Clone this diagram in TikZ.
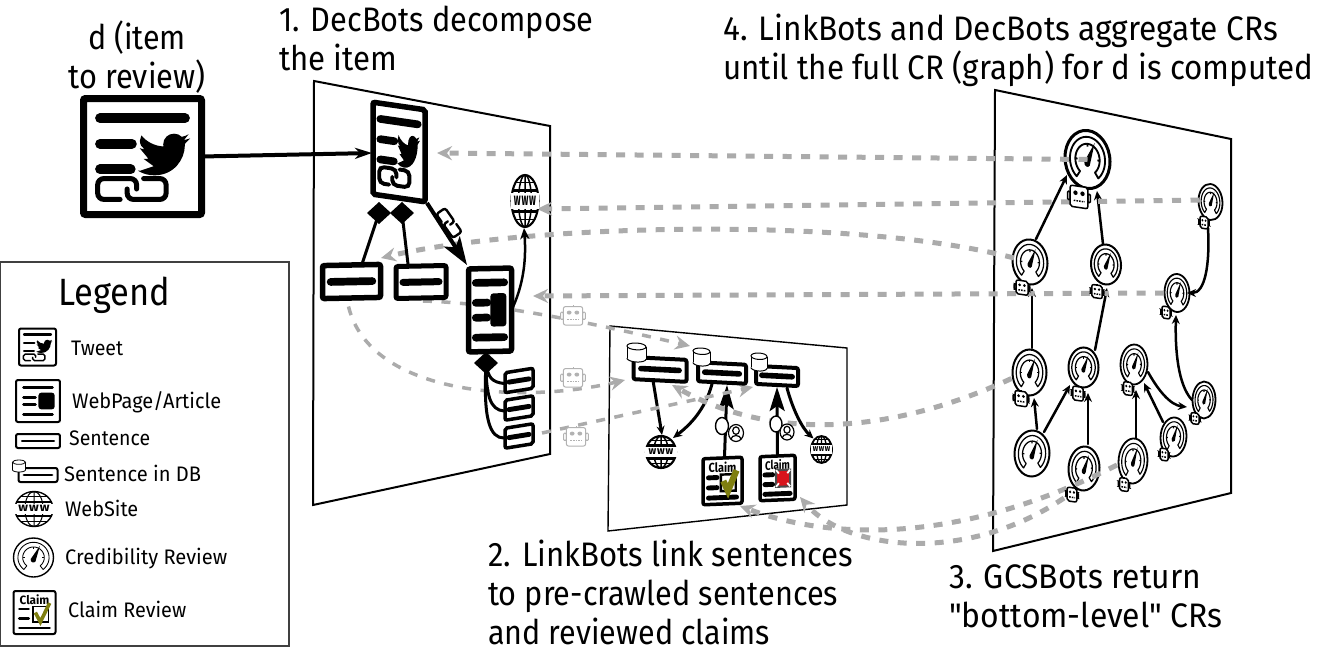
\documentclass[tikz,border=0pt]{standalone}
\usepackage{graphicx}
\usepackage{fontspec}
\setmainfont{Fira Sans}[Ligatures=TeXOff]
\usetikzlibrary{arrows.meta}
\pgfdeclarelayer{plane}\pgfdeclarelayer{gauge}\pgfdeclarelayer{gray}
\pgfsetlayers{plane,gauge,gray,main}
\definecolor{dashgray}{HTML}{ABABAB}
\definecolor{olivecheck}{HTML}{7F7F10}
\definecolor{crossred}{HTML}{D8141C}
\newcommand\At[3]{([shift={(#2,#3)}]#1.center)}
\newcommand\FitW[2]{\setbox0\hbox{#2}\pgfmathsetmacro\fitr{#1/\the\wd0}\scalebox{\fitr}[1]{#2}}
\newcommand\Ic[8]{%
 \begin{scope}[shift={(#2,#3)},yslant=-1*(#6),xscale=#4/100,yscale=#5/100]
 \def\Lw{#7}\pgfmathsetmacro\Bw{#7*1.4}\pgfmathsetmacro\Lk{#7*.72}\pgfmathsetmacro\Lt{#7*.62}\pgfmathsetmacro\Lr{#7*.9}
 \node[inner sep=0pt,outer sep=0pt,minimum width=100pt,minimum height=100pt,transform shape] (#1) at (0,0) {};
 #8
 \end{scope}}
\tikzset{
 x=1pt,y=-1pt,
 box/.style={draw=black,fill=white,line width=\Lw pt,rounded corners=2pt},
 bar/.style={line width=\Bw pt,line cap=round,black},
 blk/.style={draw=black,line width=2.5pt,line cap=round,-{Stealth[length=9pt,width=8pt,inset=3pt]}},
 bigblk/.style={draw=black,line width=3pt,-{Stealth[length=24pt,width=15pt,inset=5pt]}},
 plain/.style={draw=black,line width=3pt,line cap=round},
 dsh/.style={draw=dashgray,line width=5pt,dash pattern=on 9pt off 9.5pt,-{Stealth[length=15pt,width=14pt,inset=5pt]}},
 planeedge/.style={draw=black,fill=white,line width=2pt,line join=miter},
 title/.style={inner sep=0pt,anchor=base west,align=left,font=\fontsize{34}{38.7}\selectfont},
 leg/.style={inner sep=0pt,anchor=base west,font=\fontsize{21}{24}\selectfont},
}
\newcommand\Bird{\fill[black] (23.95,4.57) -- (21.13,5.35) -- (23.29,2.62) .. controls (22.34,3.18) and (21.29,3.58) .. (20.17,3.81) .. controls (19.2,2.8) and (17.9,2.33) .. (16.57,2.33) .. controls (13.85,2.33) and (11.65,4.53) .. (11.65,7.25) .. controls (11.65,7.6) and (11.7,7.95) .. (11.78,8.29) .. controls (7.69,8.10) and (4.07,6.13) .. (1.64,3.16) -- (0.97,5.64) .. controls (0.97,7.35) and (1.84,8.85) .. (3.16,9.73) -- (0.93,9.12) -- (0.93,9.18) -- (4.88,14.0) -- (2.67,14.09) -- (7.27,17.5) -- (1.17,19.6) .. controls (0.78,19.6) and (0.39,19.58) .. (0,19.54) .. controls (2.18,20.94) and (4.76,21.75) .. (7.56,21.75) .. controls (16.61,21.75) and (21.56,14.25) .. (21.56,7.76) -- (21.545,7.13) -- cycle;}
\newcommand\LinkShape{%
 \draw[line width=\Lk pt,rounded corners=\Lr pt,line cap=round] (4,0)--(4,-9)--(-29,-9)--(-29,9)--(-10,9);
 \draw[line width=\Lk pt,rounded corners=\Lr pt,line cap=round] (-4,0)--(-4,9)--(29,9)--(29,-9)--(10,-9);}
\newcommand\TweetC{%
 \path[box] (-50,-50) rectangle (50,50);
 \draw[bar] (-36,-33)--(36,-33) (-36,-11)--(-9,-11) (-36,11)--(-10,11);
 \begin{scope}[shift={(-4,-24)},scale=1.85]\Bird\end{scope}
 \begin{scope}[shift={(-9,28)}]\LinkShape\end{scope}}
\newcommand\WebC{%
 \path[box] (-50,-50) rectangle (50,50);
 \draw[bar] (-33,-33)--(33,-33) (-33,-9)--(-6,-9) (-33,9)--(-6,9) (-33,33)--(33,33);
 \fill[black,rounded corners=3pt] (1,-20) rectangle (38,20);}
\newcommand\SentC{%
 \path[box] (-50,-50) rectangle (50,50);
 \draw[bar] (-36,0)--(36,0);}
\newcommand\CylC{%
 \fill[white] (-50,-32) rectangle (50,32);
 \fill[white] (0,32) ellipse (50 and 18);
 \draw[line width=\Lw pt] (-50,-32) -- (-50,32);
 \draw[line width=\Lw pt] (50,-32) -- (50,32);
 \draw[line width=\Lw pt] plot[domain=180:360,samples=20] ({50*cos(\x)},{32-18*sin(\x)});
 \draw[line width=\Lw pt,fill=white] (0,-32) ellipse (50 and 18);}
\newcommand\GlobeC{%
 \fill[white] (0,0) circle (50);
 \begin{scope}
 \clip (0,0) circle (50);
 \draw[line width=\Lw pt] (0,0) ellipse (24 and 50) (0,-50)--(0,50);
 \draw[line width=\Lw pt] (-50,-36)--(50,-36) (-50,36)--(50,36);
 \draw[line width=1.6*\Lw pt] (-50,-20)--(50,-20) (-50,20)--(50,20);
 \end{scope}
 \draw[line width=1.4*\Lw pt] (0,0) circle (50);
 \fill[white] (-52,-15) rectangle (52,15);
 \node[transform shape,inner sep=0pt,font=\fontsize{34}{34}\selectfont\bfseries] at (0,-1) {w\kern3pt w\kern3pt w};}
\newcommand\GaugeC{%
 \draw[line width=\Lw pt,fill=white] (0,0) circle (50);
 \draw[line width=\Lt pt,line join=round] plot[domain=232:-52,samples=36] ({39*cos(\x)},{-39*sin(\x)}) -- plot[domain=-52:232,samples=36] ({27*cos(\x)},{-27*sin(\x)}) -- cycle;
 \draw[line width=\Lt pt] (-27,0)--(-22,0) (27,0)--(22,0) (0,-27)--(0,-22);
 \fill[black] (16,-30) -- (5,10) .. controls (2,16) and (-9,12) .. (-7,4) -- cycle;}
\newcommand\RobotC[1]{%
 \draw[#1,line width=\Lw pt,fill=white,rounded corners=1pt] (-52,-14) rectangle (-40,22);
 \draw[#1,line width=\Lw pt,fill=white,rounded corners=1pt] (52,-14) rectangle (40,22);
 \draw[#1,line width=\Lw pt] (0,-42)--(0,-50);
 \draw[#1,line width=\Lw pt,fill=white,rounded corners=2pt] (-40,-42) rectangle (40,50);
 \fill[#1] (-16,-12) circle (10) (16,-12) circle (10);
 \draw[#1,line width=\Lw pt,dash pattern=on 1.6pt off 1.1pt] (-24,22)--(26,22);}
\newcommand\ClaimC[1]{%
 \path[box] (-50,-50) rectangle (50,50);
 \node[transform shape,inner sep=0pt,font=\fontsize{28}{28}\selectfont\bfseries] at (0,-30) {Claim};
 \draw[bar] (-36,-8)--(-14,-8) (-36,14)--(-14,14) (-36,36)--(36,36);
 #1}
\newcommand\Chk{%
 \draw[line width=.7*\Lw pt,fill=white] (-4,-14) rectangle (34,22);
 \draw[olivecheck,line width=1.8*\Lw pt,line cap=butt] (2,0)--(14,22)--(36,-22);}
\newcommand\Crs{%
 \draw[black!70,line width=.6*\Lw pt,fill=crossred] (-4,-18) rectangle (36,20);
 \draw[white,line width=.5*\Lw pt] (-4,-18)--(4,-10) (36,-18)--(28,-10) (-4,20)--(4,12) (36,20)--(28,12);}
\newcommand\DiaC{\fill[black] (-50,0)--(0,-50)--(50,0)--(0,50)--cycle;}
\newcommand\BadgeC{%
 \draw[line width=\Lw pt,fill=white] (0,0) circle (50);
 \draw[line width=\Lw pt,fill=white] (0,-14) circle (22);
 \draw[line width=\Lw pt] (-34,36) .. controls (-30,8) and (30,8) .. (34,36);}
\newcommand\GlassC{\draw[line width=\Lw pt,fill=white] (0,0) circle (50);}
\newcommand\Gg[7]{\begin{pgfonlayer}{gauge}\Ic{#1}{#2}{#3}{#4}{#5}{#6}{#7}{\GaugeC}\end{pgfonlayer}}
\newcommand\Rb[5]{\Ic{#1}{#2}{#3}{#4}{#5}{0.15}{1.5}{\RobotC{black}}}
\begin{document}
\begin{tikzpicture}
\useasboundingbox (0,0) rectangle (1318,651);
\begin{pgfonlayer}{plane}
\fill[white] (0,0) rectangle (1318,651);
\path[planeedge] (314,81)--(550,126)--(550,454)--(313,505)--cycle;
\path[planeedge,line width=1.4pt] (610,326)--(847,348)--(847,505)--(608,531)--cycle;
\path[planeedge] (995,90)--(1231,139)--(1231,493)--(993,551)--cycle;
\end{pgfonlayer}
% titles
\node[title,align=center,anchor=base] (tD) at (137,88) {\FitW{98}{d (item}\\\FitW{137}{to review)}};
\node[title] (t1) at (279,70) {\FitW{314}{1. DecBots decompose}\\\FitW{118}{the item}};
\node[title] (t4) at (723,79) {\FitW{555}{4. LinkBots and DecBots aggregate CRs}\\\FitW{590}{until the full CR (graph) for d is computed}};
\node[title] (t2) at (488,644) {\FitW{365}{2. LinkBots link sentences}\\\FitW{350}{to pre-crawled sentences}\\\FitW{282}{and reviewed claims}};
\node[title] (t3) at (949,627) {\FitW{252}{3. GCSBots return}\\\FitW{273}{"bottom-level" CRs}};
% legend
\path[draw=black!75,line width=1.4pt] (0.7,262) rectangle (289,646);
\node[leg,font=\fontsize{38}{40}\selectfont] (lt) at (58,305) {\FitW{112}{Legend}};
\node[leg] (l1) at (71,355) {\FitW{52}{Tweet}};
\node[leg] (l2) at (72,408) {\FitW{149}{WebPage/Article}};
\node[leg] (l3) at (69,445) {\FitW{81}{Sentence}};
\node[leg] (l4) at (64,481) {\FitW{137}{Sentence in DB}};
\node[leg] (l5) at (65,516) {\FitW{73}{WebSite}};
\node[leg] (l6) at (65,564) {\FitW{162}{Credibility Review}};
\node[leg] (l7) at (68,617) {\FitW{118}{Claim Review}};
\Ic{li1}{37.5}{347}{37}{37}{0}{2}{\TweetC}
\Ic{li2}{38}{401}{44}{42}{0}{2}{\WebC}
\Ic{li3}{38}{441}{44}{14}{0}{2}{\SentC}
\Ic{li4}{38}{475}{39}{14}{0}{2}{\SentC}
\Ic{li4c}{19}{466}{13}{12}{0}{0.8}{\CylC}
\Ic{li5}{34}{509}{38}{35}{0}{1}{\GlobeC}
\Ic{li6}{33.5}{557.5}{40}{39}{0}{1.4}{\GaugeC}
\Ic{li7}{34.5}{612.5}{42}{43}{0}{2}{\ClaimC{\Chk}}
% d
\Ic{tw0}{142.5}{156.5}{118}{116}{0}{7}{\TweetC}
% left plane
\Ic{tw}{399}{152}{52}{92}{0.145}{5.5}{\TweetC}
\Ic{art}{490}{310}{43}{83}{-0.02}{5.5}{\WebC}
\Ic{s1}{351.5}{281.5}{58}{33}{-0.02}{5.5}{\SentC}
\Ic{s2}{421}{282}{50}{32}{-0.02}{5}{\SentC}
\Ic{s3}{519}{380.5}{28}{20}{-0.16}{3.5}{\SentC}
\Ic{s4}{519}{408}{28}{20}{-0.16}{3.5}{\SentC}
\Ic{s5}{519}{436}{28}{20}{-0.16}{3.5}{\SentC}
\Ic{dm1}{379}{213}{24}{22}{0}{1}{\DiaC}
\Ic{dm2}{402}{213}{24}{22}{0}{1}{\DiaC}
\Ic{dm3}{486}{363}{24}{22}{0}{1}{\DiaC}
\Ic{web1}{525}{201}{27}{52}{0}{1.5}{\GlobeC}
\begin{scope}[shift={(449,223)},rotate=-55,xscale=.5,yscale=.6]
\def\Lk{2.4}\def\Lr{2.5}\node[inner sep=0pt,minimum size=10pt] (lk) at (0,0) {};\LinkShape
\end{scope}
\draw[plain] \At{s1}{11}{-19} -- (dm1.center);
\draw[plain] \At{s2}{-13}{-18} -- (dm2.center);
\draw[draw=black,line width=4pt,-{Stealth[length=28pt,width=19pt,inset=7pt]}] \At{tw}{28}{51} -- \At{art}{-23}{-45};
\draw[blk,-{Stealth[length=11pt,width=9pt,inset=3pt]}] \At{art}{23}{-3} .. controls (525,280) and (526,255) .. \At{web1}{-1}{27};
\draw[plain] (dm3.center) .. controls (488,378) and (492,382) .. \At{s3}{-15}{3};
\draw[plain] (dm3.center) .. controls (486,395) and (490,410) .. \At{s4}{-15}{3};
\draw[plain] (dm3.center) .. controls (483,420) and (490,438) .. \At{s5}{-15}{2};
\draw[draw=black,line width=4pt,-{Stealth[length=17pt,width=11pt,inset=5pt]}] (tw0.east) -- \At{tw}{-27}{1};
% gray robots
\Ic{r1}{573}{315}{24}{20}{0}{1}{\RobotC{black!30}}
\Ic{r2}{573}{377}{24}{20}{0}{1}{\RobotC{black!30}}
\Ic{r3}{576}{436}{24}{20}{0}{1}{\RobotC{black!30}}
% mid plane
\Ic{d1}{660}{369.5}{53}{22}{0.05}{4}{\SentC}
\Ic{d2}{722}{373}{48}{19}{0.05}{4}{\SentC}
\Ic{d3}{777}{376}{42}{18}{0.05}{4}{\SentC}
\Ic{cy1}{636.5}{352.5}{19}{19}{0.05}{1}{\CylC}
\Ic{cy2}{701.5}{357}{17}{18}{0.05}{1}{\CylC}
\Ic{cy3}{759}{362}{16}{18}{0.05}{1}{\CylC}
\Ic{wm}{661}{452}{30}{32}{0}{1.5}{\GlobeC}
\Ic{wr}{821.5}{449.5}{21}{27}{0}{1.3}{\GlobeC}
\Ic{c1}{722.5}{481}{39}{46}{-0.04}{3.5}{\ClaimC{\Chk}}
\Ic{c2}{777.5}{478}{35}{44}{-0.04}{3.5}{\ClaimC{\Crs}}
\begin{pgfonlayer}{gauge}
\draw[blk,line width=3pt] \At{d1}{-7}{11} -- \At{wm}{1}{-17};
\draw[blk,line width=3pt] \At{d2}{-10}{11} .. controls (705,410) and (690,425) .. \At{wm}{12}{-14};
\draw[bigblk] \At{c1}{2}{-24} -- \At{d2}{5}{12};
\draw[bigblk] \At{c2}{0}{-23} -- \At{d3}{0}{11};
\draw[blk,line width=3pt] \At{d3}{10}{12} .. controls (793,410) and (802,428) .. \At{wr}{-8}{-11};
\end{pgfonlayer}
\Ic{gl1}{722}{426}{13}{17}{0}{1.4}{\GlassC}
\Ic{gl2}{776}{424}{12}{16}{0}{1.4}{\GlassC}
\Ic{pb1}{736}{433}{15}{17}{0}{1.2}{\BadgeC}
\Ic{pb2}{787}{432}{14}{16}{0}{1.2}{\BadgeC}
% gauges
\Gg{g0}{1087.5}{159.5}{45}{58}{0.1}{3}
\Gg{g1}{1210.5}{202}{24}{36}{0.1}{1.8}
\Gg{g2}{1030}{262}{35}{45}{0.08}{2}
\Gg{g3}{1106}{264.5}{30}{40}{0.06}{2}
\Gg{g4}{1177}{293}{25}{38}{0.05}{1.8}
\Gg{g5}{1029.5}{372.5}{34}{46}{0}{2}
\Gg{g6}{1083.5}{367.5}{30}{40}{0}{2}
\Gg{g7}{1134}{364.5}{27}{40}{-0.02}{1.8}
\Gg{g8}{1204}{400}{23}{37}{-0.03}{1.8}
\Gg{g9}{1032}{453.5}{35}{46}{-0.03}{2}
\Gg{g10}{1084}{468.5}{31}{44}{-0.05}{2}
\Gg{g11}{1133}{461}{29}{45}{-0.08}{1.8}
\Gg{g12}{1173.5}{437}{26}{39}{-0.08}{1.8}
\Rb{rb0}{1079}{196}{22}{23}
\Rb{rb1}{1204}{222}{10}{13}
\Rb{rb2}{1022}{287}{15}{15}
\Rb{rb3}{1097}{291}{13}{14}
\Rb{rb4}{1166}{312}{10}{13}
\Rb{rb5}{1021}{398}{15}{16}
\Rb{rb6}{1078}{393}{13}{15}
\Rb{rb7}{1128}{388}{11}{14}
\Rb{rb8}{1195}{418}{10}{12}
\Rb{rb10}{1072}{494}{12}{15}
\Rb{rb11}{1124}{484}{11}{14}
\Rb{rb12}{1164}{454}{10}{13}
\begin{pgfonlayer}{gauge}
\draw[blk] \At{g2}{6}{-23} -- \At{g0}{-20.5}{15.5};
\draw[blk] \At{g3}{-3}{-20.5} -- \At{g0}{9.5}{31.5};
\draw[blk] \At{g5}{2.5}{-24.5} -- \At{g2}{2}{26};
\draw[blk] \At{g6}{11.5}{-17.5} -- \At{g3}{1}{23.5};
\draw[blk] \At{rb1}{4}{6} .. controls (1210,265) and (1205,293) .. \At{g4}{10}{0};
\draw[blk] \At{g8}{-12}{0} .. controls (1178,385) and (1175,350) .. \At{g4}{-1}{22};
\draw[blk] \At{g7}{14}{7.5} .. controls (1158,390) and (1170,405) .. \At{g8}{-17}{7};
\draw[blk] \At{g9}{5}{-24.5} -- \At{g5}{4.5}{25.5};
\draw[blk] \At{g9}{12}{-21.5} -- \At{g6}{-13.5}{17.5};
\draw[blk] \At{g10}{4}{-24.5} -- \At{g6}{4.5}{25.5};
\draw[blk] \At{g11}{3}{-23} -- \At{g7}{2}{25.5};
\draw[blk] \At{g12}{-10.5}{-15} -- \At{g7}{10}{18.5};
\end{pgfonlayer}
% gray dashed
\begin{pgfonlayer}{gray}
\draw[dsh] (g0.center) -- \At{tw}{38}{1};
\draw[dsh] \At{g1}{-11}{-2} -- \At{web1}{12}{8};
\draw[dsh] \At{g2}{-16}{-4} .. controls (850,215) and (520,225) .. \At{s1}{29.5}{-23.5};
\draw[dsh] \At{g4}{-13}{0} -- \At{art}{43}{-14};
\draw[dsh,line width=3.5pt] \At{s2}{2}{19} .. controls (500,303) and (600,325) .. \At{d2}{-32}{-27};
\draw[dsh,line width=3.5pt] \At{s1}{-3}{25} .. controls (370,395) and (520,405) .. \At{d1}{-35}{10.5};
\draw[dsh,line width=3.5pt] \At{s5}{23}{-3} -- \At{d3}{-24}{11};
\draw[dsh] \At{g5}{-18}{6} .. controls (900,430) and (780,445) .. \At{d1}{12}{15.5};
\draw[dsh] \At{g11}{-16}{4} .. controls (960,545) and (830,540) .. \At{c1}{17.5}{25};
\draw[dsh] \At{rb10}{-8}{4} .. controls (965,565) and (845,550) .. \At{c2}{22.5}{19};
\end{pgfonlayer}
\end{tikzpicture}
\end{document}
